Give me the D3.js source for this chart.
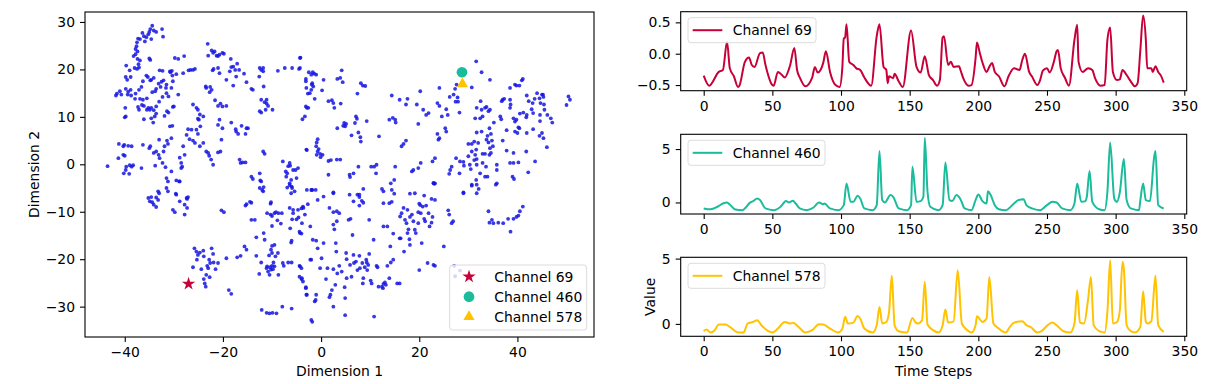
<!DOCTYPE html>
<html>
<head>
<meta charset="utf-8">
<script src="https://cdn.jsdelivr.net/npm/d3@7"></script>
<style>
  body { margin: 0; background: #fff; }
  svg { font-family: "DejaVu Sans", sans-serif; }
</style>
</head>
<body>
<div id="chart"></div>
<script>
// ---- t-SNE embedding of the channels (Dimension 1, Dimension 2) ----
const embedding = [
  [-32.4,28.5],[-34.4,29.2],[-34.1,28.2],[-33.6,27.9],[-34.8,28.5],[-35.0,27.9],[-35.2,27.4],[-34.6,26.4],
  [-35.6,26.8],[-36.1,27.0],[-35.9,25.9],[-36.4,27.7],[-36.9,26.4],[-37.3,26.5],[-37.5,25.7],[-37.6,24.9],
  [-37.8,24.3],[-37.4,23.8],[-37.8,23.2],[-38.2,22.8],[-37.4,22.2],[-36.9,21.9],[-37.2,21.1],[-37.1,20.4],
  [-37.5,20.1],[-38.0,20.3],[-39.0,19.8],[-39.7,20.8],[-38.8,18.4],[-39.8,18.4],[-39.5,17.8],[-35.0,22.3],
  [-34.8,22.0],[-32.2,26.9],[-32.3,19.7],[-32.9,19.8],[-33.1,17.0],[-32.5,17.4],[-32.1,17.7],[-31.5,16.8],
  [-31.6,16.1],[-32.7,16.3],[-33.6,15.9],[-33.8,15.4],[-34.4,15.2],[-34.1,18.2],[-34.6,17.8],[-35.3,18.4],
  [-35.6,18.7],[-34.8,17.7],[-36.3,17.5],[-36.6,16.3],[-37.1,15.7],[-37.8,14.9],[-38.8,15.7],[-39.3,15.3],
  [-39.8,15.9],[-41.0,15.4],[-41.6,14.9],[-41.8,14.5],[-40.7,14.7],[-39.4,14.7],[-38.7,14.5],[-37.9,13.8],
  [-36.9,13.8],[-36.3,13.6],[-35.5,13.9],[-36.5,12.5],[-37.3,12.1],[-36.1,12.3],[-35.2,11.9],[-34.9,11.5],
  [-34.6,11.9],[-34.1,11.4],[-33.6,12.2],[-33.0,13.2],[-32.3,14.2],[-31.5,15.0],[-31.1,14.3],[-30.5,16.1],
  [-30.2,17.5],[-30.3,18.7],[-30.7,19.4],[-30.4,19.7],[-30.8,19.6],[-29.1,14.7],[-30.0,12.2],[-31.4,11.2],
  [-31.9,10.2],[-33.6,10.7],[-33.9,10.1],[-34.2,8.8],[-34.6,9.7],[-36.1,9.5],[-39.9,11.9],[-39.8,10.1],
  [-40.0,9.9],[-37.1,11.5],[-35.5,11.5],[-30.8,8.0],[-31.1,10.9],
  [-29.8,22.4],[-29.1,22.2],[-27.9,22.8],[-29.5,19.0],[-28.1,19.2],[-30.2,12.1],[-30.3,8.1],[-26.6,19.9],
  [-26.1,19.9],[-25.7,20.1],[-27.0,19.8],[-23.1,25.4],[-23.0,22.9],[-22.3,24.0],[-22.0,23.5],[-21.7,23.8],
  [-21.3,22.9],[-21.0,22.8],[-20.7,23.1],[-20.1,23.5],[-19.8,23.3],[-18.4,22.2],[-17.1,21.2],[-17.5,19.9],
  [-18.6,19.6],[-18.3,20.5],[-17.9,20.6],[-16.7,19.9],[-15.7,19.1],[-15.2,17.3],[-14.2,15.9],[-13.9,15.7],
  [-19.3,17.8],[-20.7,19.2],[-21.0,20.3],[-21.9,20.1],[-22.1,19.8],[-23.5,16.4],[-23.4,16.1],[-22.6,16.3],
  [-22.3,15.7],[-22.7,15.2],[-21.6,13.5],[-21.0,12.3],[-20.5,12.8],[-20.1,12.2],[-19.3,12.3],[-17.9,16.6],
  [-17.3,18.5],[-12.5,20.3],[-12.2,19.9],[-11.8,20.3],[-11.8,19.6],[-12.6,18.5],[-11.7,16.4],[-12.2,13.6],
  [-11.5,13.1],[-11.1,12.8],[-10.8,12.3],[-11.1,13.6],[-11.3,11.5],[-9.9,11.5],[-12.5,11.2],[-12.2,10.9],
  [-8.8,19.7],[-7.4,20.3],[-5.9,20.3],[-4.5,20.1],[-4.2,22.5],[-26.1,12.6],[-25.4,11.9],[-25.1,11.5],
  [-24.7,10.5],[-24.0,10.1],[-25.1,9.6],[-24.9,9.4],[-24.6,8.0],[-25.4,7.3],[-25.1,6.4],[-26.4,7.3],
  [-27.1,7.4],[-27.4,6.2],[-26.8,5.3],[-26.1,5.0],[-25.7,4.5],[-24.7,3.8],[-24.0,4.5],[-23.4,2.7],
  [-23.0,2.4],[-22.8,1.8],[-22.4,1.0],[-22.0,-0.1],[-21.0,2.5],[-20.3,5.2],[-20.5,2.7],[-20.1,7.6],
  [-21.0,8.3],[-20.7,9.4],[-18.3,8.8],[-17.4,7.4],[-17.3,6.9],[-16.9,6.4],[-16.2,8.1],[-15.2,7.6],
  [-14.9,7.6],[-15.4,6.4],[-16.6,1.0],[-16.4,0.3],[-16.0,0.4],[-15.4,0.4],[-14.2,-2.6],[-13.9,-3.1],
  [-11.8,2.7],[-11.5,2.2],[-12.5,-1.9],[-12.4,-3.4],[-12.5,-5.0],[-11.8,-5.7],[-12.2,-3.6],[-7.8,0.6],
  [-7.2,-1.5],[-6.9,-1.9],[-7.1,-2.6],[-6.4,0.3],[-6.3,-0.3],[-6.7,-0.4],[-5.7,-1.2],[-5.2,-1.2],
  [-5.0,-2.9],[-6.1,-3.3],[-6.4,-4.0],[-5.9,-5.0],[-5.4,-5.7],[-4.7,-0.8],[-3.0,3.1],[-2.0,-5.4],
  [-3.8,9.5],[-3.3,10.1],[-2.9,11.9],[-3.1,12.2],[-3.1,17.5],[-3.1,18.0],[-3.0,16.1],[-2.7,14.9],
  [-2.3,15.0],[-2.0,15.7],[-1.8,17.1],[-1.6,16.4],[-1.3,13.8],[-2.0,18.9],[-2.5,19.4],[-1.0,18.9],
  [-33.0,5.2],[-31.4,5.0],[-31.2,4.3],[-31.9,3.8],[-32.1,2.7],[-33.1,2.0],[-32.9,1.3],[-34.1,2.4],
  [-33.6,2.7],[-34.8,3.8],[-35.0,3.4],[-30.5,5.5],[-28.1,3.8],[-27.8,2.0],[-28.8,1.4],[-28.5,0.3],
  [-28.3,-0.5],[-28.5,-0.8],[-30.5,-1.5],[-31.7,-0.6],[-32.3,0.3],[-33.8,-0.3],[-36.3,4.1],[-38.6,3.8],
  [-39.3,3.9],[-40.1,4.1],[-40.3,3.8],[-41.2,4.3],[-41.3,1.3],[-40.3,2.0],[-40.0,1.8],[-39.0,-0.2],
  [-38.6,-0.5],[-39.7,-0.5],[-39.8,-1.2],[-39.1,-2.0],[-40.2,-1.9],[-38.3,-0.2],[-36.6,-0.8],[-43.5,-0.4],
  [-31.5,-2.9],[-31.2,-3.6],[-29.6,-6.2],[-28.8,-3.6],[-29.5,-3.4],[-27.3,-7.3],[-27.1,-6.9],[-33.6,-7.0],
  [-35.2,-7.1],[-34.6,-6.9],[-34.9,-7.8],[-34.4,-8.0],[-34.1,-8.5],[-33.6,-9.0],[-33.2,-7.5],[-33.0,-6.1],
  [-33.2,-5.7],[-31.5,-5.0],[-31.2,-5.7],[-30.2,-9.6],[-29.8,-10.1],[-29.5,-6.4],[-28.8,-7.8],[-27.8,-8.5],
  [-27.3,-9.2],[-27.4,-7.1],[-27.8,-10.6],[-28.9,-3.6],
  [-26.1,-21.7],[-25.8,-17.7],[-25.4,-18.4],[-25.1,-19.1],[-24.7,-18.6],[-25.3,-20.1],[-24.0,-18.2],[-23.9,-19.4],
  [-24.4,-22.1],[-23.9,-24.2],[-23.7,-25.1],[-23.5,-25.8],[-23.4,-23.3],[-23.2,-21.4],[-22.8,-20.1],[-23.0,-21.9],
  [-22.6,-20.8],[-22.3,-17.7],[-22.0,-18.9],[-21.9,-20.7],[-21.5,-22.1],[-21.0,-20.8],[-22.7,-23.8],[-20.3,-9.7],
  [-19.8,-10.1],[-19.3,-19.8],[-18.8,-26.5],[-18.3,-27.3],[-17.1,-19.6],[-16.4,-19.3],[-15.6,-17.3],[-15.2,-18.0],
  [-15.2,-8.4],[-15.4,-8.7],[-14.5,-7.9],[-14.2,-8.1],[-14.2,-11.7],[-13.5,-11.7],[-13.2,-15.4],[-13.2,-19.3],
  [-12.6,-23.1],[-12.2,-20.7],[-12.0,-5.4],[-11.7,-4.8],[-11.7,-14.5],[-11.5,-15.9],[-11.1,-21.9],[-10.8,-22.6],
  [-10.5,-23.3],[-11.0,-21.5],[-10.4,-21.7],[-10.2,-22.2],[-10.0,-21.4],[-9.8,-22.1],[-9.5,-21.5],[-9.7,-20.7],
  [-9.3,-19.4],[-10.0,-18.7],[-10.6,-19.2],[-10.2,-18.0],[-10.0,-17.2],[-9.5,-17.0],[-8.8,-18.7],[-8.7,-23.3],
  [-12.1,-30.7],[-11.1,-31.3],[-10.5,-31.4],[-9.9,-31.3],[-9.1,-31.4],[-7.9,-30.0],[-6.0,-30.4],[-11.0,-10.3],
  [-10.3,-10.6],[-10.3,-8.3],[-10.2,-8.0],[-10.0,-10.9],[-9.5,-10.3],[-9.2,-10.1],[-8.7,-10.3],[-8.0,-10.3],
  [-8.9,-11.8],[-8.2,-12.5],[-10.0,-13.0],[-7.8,-20.8],[-7.6,-21.4],[-6.7,-20.7],[-6.0,-20.7],[-6.3,-13.5],
  [-6.0,-16.1],[-6.1,-16.5],[-6.4,-9.2],[-5.9,-11.6],[-5.7,-9.6],[-5.7,-10.3],[-4.7,-9.6],[-4.0,-9.3],
  [-3.7,-8.9],[-2.7,-8.4],[-5.0,-11.6],[-4.6,-11.2],[-4.4,-14.2],[-4.0,-14.6],[-4.4,-21.4],[-4.0,-21.9],
  [-4.4,-23.7],[-4.0,-24.2],[-3.7,-24.7],[-3.1,-25.9],[-3.0,-27.5],[-2.0,-20.1],[-2.2,-13.1],[-1.7,-15.9],
  [-1.3,-28.9],[-1.1,-28.6],[-2.0,-32.8],[-1.0,-27.5],[-1.1,-5.4],[-6.9,-4.9],[-6.4,-4.4],[-6.0,-4.7],
  [-6.1,-6.1],[-2.9,-5.4],
  [-4.3,22.4],[-4.3,20.3],[-1.7,19.4],[-1.4,19.1],[-1.9,16.8],[0.5,17.8],[0.2,15.6],[-2.6,11.9],
  [3.3,18.0],[3.9,18.2],[4.2,19.8],[4.4,17.3],[1.5,13.3],[2.2,13.5],[2.5,12.9],[2.7,11.9],
  [4.0,12.8],[-0.7,5.3],[-0.9,4.6],[-1.0,3.8],[-0.5,3.2],[-0.7,2.7],[-0.9,2.0],[-0.2,2.2],
  [0.3,2.0],[-0.1,1.5],[-2.9,3.0],[1.5,0.7],[2.0,0.9],[3.2,1.0],[3.9,1.0],[1.5,-2.2],
  [5.8,-2.2],[5.9,-2.7],[6.6,-1.9],[7.6,-0.5],[6.2,6.1],[6.9,8.7],[7.1,10.1],[7.3,9.6],
  [7.6,6.7],[8.0,5.7],[8.1,4.8],[9.3,9.1],[4.5,8.1],[4.7,8.7],[4.9,8.0],[5.1,8.5],
  [3.3,7.6],[7.4,14.9],[8.1,17.1],[8.5,16.6],[9.0,16.5],[11.8,5.9],[10.2,-0.5],[10.8,-0.5],
  [11.3,-0.1],[11.2,-1.9],[15.1,-0.5],[14.9,-3.3],[14.2,-4.0],[12.7,-5.7],[13.9,9.4],[14.6,9.8],
  [15.1,9.4],[15.2,8.8],[14.4,14.5],[16.0,13.6],[17.3,12.6],[17.6,13.8],[19.5,12.6],[19.8,8.5],
  [20.2,15.4],[20.8,11.5],[21.4,10.4],[21.9,10.8],[16.4,3.8],[16.8,4.3],[17.3,5.0],[18.5,-1.5],
  [18.8,-1.2],[19.8,-0.8],[20.3,0.3],[19.1,-6.1],[18.1,-6.2],[14.9,-6.2],[8.6,-5.2],[7.8,-6.4],
  [-1.8,-5.4],[2.5,-5.9],[5.8,-6.4],[22.7,0.6],[23.2,1.3],[22.9,-4.0],[23.2,-4.0],[23.7,12.9],
  [24.1,12.3],[24.1,16.1],[23.7,6.4],[23.9,5.2],[24.1,5.5],[25.3,7.6],[25.5,6.9],[25.8,10.4],
  [24.6,10.1],[25.5,11.6],[26.2,14.2],[27.0,14.7],[27.3,15.9],[27.6,16.8],[27.8,14.1],[27.4,13.2],
  [27.9,13.2],[28.2,10.9],[31.6,21.7],[32.7,19.4],[34.4,17.8],[30.7,16.2],[32.5,13.3],[31.7,11.9],
  [32.7,11.5],[33.4,11.9],[33.7,12.1],[34.1,11.2],[34.4,11.5],[32.9,10.1],[32.4,9.7],[31.4,9.7],
  [36.5,10.1],[36.7,9.5],[35.2,8.8],[34.3,7.6],[32.7,6.9],[33.9,6.0],[34.6,6.4],[34.8,5.0],
  [34.1,4.6],[35.0,3.8],[34.4,3.4],[33.4,2.2],[32.9,2.2],[34.3,2.0],[34.6,2.4],[33.7,5.2],
  [31.7,6.7],[30.0,4.3],[30.7,4.3],[31.2,4.8],[31.6,3.1],[32.0,4.5],[30.7,2.7],[31.4,2.0],
  [31.7,1.1],[30.0,1.7],[29.0,0.5],[28.3,0.6],[27.5,1.3],[26.6,-0.5],[26.3,-1.2],[26.1,-2.0],
  [28.2,-1.9],[29.1,-0.3],[30.3,-0.1],[30.5,-1.0],[31.2,0.9],[31.7,-0.1],[32.4,-1.9],[32.9,0.3],
  [33.4,-2.6],[33.9,-2.6],[33.6,-0.5],[35.8,-0.1],[35.8,-1.2],[30.7,-4.3],[31.6,-3.3],[32.1,-5.2],
  [31.7,-6.1],[35.8,-4.0],[29.0,-5.9],[36.8,13.3],[37.0,13.6],[37.3,13.8],[38.5,13.6],[38.5,11.9],
  [38.6,12.6],[38.5,16.1],[39.5,16.8],[39.8,16.6],[40.4,16.6],[40.9,17.7],[41.1,18.0],[41.9,14.5],
  [42.3,13.3],[43.1,12.9],[43.5,13.8],[44.0,15.0],[44.5,13.9],[45.0,14.7],[45.3,14.2],[45.2,14.7],
  [44.7,12.9],[45.4,12.6],[45.5,11.5],[44.6,10.4],[46.1,10.4],[46.8,9.7],[47.1,8.8],[41.2,10.9],
  [41.9,10.4],[42.9,11.6],[43.2,10.8],[41.8,9.9],[40.5,10.7],[39.2,9.7],[39.5,9.0],[39.8,9.4],
  [44.6,9.1],[40.2,7.8],[39.5,6.9],[40.0,6.6],[40.4,7.6],[41.9,6.6],[43.2,7.4],[44.5,6.0],
  [45.0,6.6],[45.3,5.5],[46.0,3.6],[37.8,7.2],[37.0,5.0],[37.8,2.9],[39.2,2.4],[38.5,0.3],
  [39.2,0.3],[40.2,0.4],[41.8,2.7],[43.6,0.6],[42.2,-1.7],[39.0,-2.6],[39.3,-3.1],[50.0,12.5],
  [50.4,14.3],[50.7,13.6],[31.7,-4.3],
  [-1.9,-5.4],[0.5,-6.8],[-0.7,-7.5],[2.5,-6.1],[7.4,-6.4],[7.8,-6.9],[6.6,-7.8],[8.3,-7.7],
  [8.6,-8.1],[7.8,-8.7],[12.4,-5.2],[12.7,-8.2],[13.9,-8.2],[14.4,-7.9],[21.0,-6.6],[20.0,-8.3],
  [21.4,-8.7],[22.5,-7.3],[23.2,-7.5],[22.9,-3.9],[23.1,-4.1],[29.0,-6.1],[30.7,-4.5],[35.6,-4.3],
  [34.1,-9.9],[34.8,-11.7],[34.3,-12.3],[35.1,-12.4],[36.1,-12.3],[37.1,-12.4],[38.1,-11.5],[38.6,-14.2],
  [39.2,-11.5],[39.8,-11.1],[40.2,-10.8],[40.5,-9.9],[41.1,-8.9],[-3.6,-9.2],[-3.3,-10.6],[-3.9,-12.4],
  [-4.3,-14.5],[-4.3,-21.5],[-3.9,-24.0],[-3.1,-26.1],[-2.9,-27.5],[-1.8,-33.2],[-1.0,-16.1],[-0.7,-17.7],
  [-2.2,-20.1],[0.1,-19.8],[-0.2,-21.9],[0.5,-16.6],[1.0,-24.2],[1.7,-28.0],[1.9,-27.5],[1.3,-21.9],
  [2.2,-26.5],[2.5,-30.0],[3.0,-16.6],[3.1,-18.4],[3.2,-9.9],[3.2,-12.0],[1.7,-9.2],[2.5,-10.1],
  [3.7,-10.3],[2.5,-12.7],[2.7,-13.7],[2.5,-22.1],[2.9,-25.4],[3.3,-23.0],[3.7,-21.4],[4.2,-22.6],
  [4.8,-25.9],[4.9,-31.8],[4.9,-28.2],[5.1,-18.7],[5.2,-20.0],[5.2,-24.0],[5.6,-11.7],[6.0,-11.5],
  [5.9,-21.2],[6.2,-23.7],[6.4,-14.9],[6.6,-19.1],[6.7,-20.8],[7.1,-20.5],[7.4,-22.3],[7.8,-19.3],
  [7.9,-21.9],[8.4,-20.8],[8.5,-25.1],[8.6,-24.0],[8.9,-21.7],[9.3,-20.7],[9.2,-20.1],[9.4,-22.3],
  [9.6,-21.2],[9.8,-11.7],[9.8,-18.9],[10.1,-24.5],[10.3,-25.1],[10.8,-32.1],[10.7,-15.9],[11.3,-21.4],
  [11.5,-21.7],[11.7,-25.8],[12.4,-25.8],[12.7,-25.2],[12.6,-26.1],[12.7,-13.1],[13.0,-24.9],[13.2,-25.4],
  [13.5,-13.1],[13.5,-21.4],[13.9,-24.0],[14.1,-17.3],[14.2,-20.7],[14.4,-5.4],[14.7,-20.1],[14.7,-14.6],
  [15.5,-25.1],[16.0,-25.1],[16.0,-15.6],[16.2,-15.6],[16.1,-11.0],[16.4,-10.3],[16.8,-9.2],[17.1,-11.7],
  [17.4,-12.4],[17.8,-13.7],[17.6,-14.5],[18.0,-15.8],[18.1,-17.0],[16.9,-18.4],[17.6,-9.6],[18.1,-11.1],
  [18.5,-10.6],[18.8,-12.0],[19.1,-13.8],[19.3,-14.5],[19.8,-12.4],[19.8,-10.1],[20.2,-8.6],[20.3,-10.3],
  [20.5,-16.6],[20.7,-8.9],[21.0,-11.5],[21.2,-12.0],[20.0,-22.3],[21.9,-10.3],[22.1,-13.1],[22.5,-12.3],
  [22.7,-11.1],[21.7,-20.8],[22.9,-21.2],[23.2,-21.4],[25.0,-17.3],[25.9,-9.7],[26.1,-10.6],[26.6,-12.4],
  [26.9,-12.0],[27.1,-21.4],[28.3,-22.4],[27.3,-23.6]
];

// ---- highlighted channels ----
const channels = ["Channel 69", "Channel 460", "Channel 578"];
const channelDim1 = [-27.0, 28.7, 28.8];
const channelDim2 = [-25.2, 19.4, 16.9];

// ---- time series (time step, value) ----
const steps69 = [0,4,11,14,17,19,22,25,26,30,33,35,37,41,43,45,50,51,54,57,59,62,63,66,68,70,74,79,81,83,87,89,92,96,99,101,102,103,104,106,109,111,114,117,122,126,128,131,133,134,135,138,139,142,145,151,155,158,161,164,167,170,172,174,175,178,180,182,186,187,189,193,195,198,199,201,203,206,208,210,212,215,219,222,226,230,232,234,237,239,243,245,247,250,252,255,257,258,260,263,266,270,272,273,276,280,283,285,289,292,294,296,298,301,303,305,308,311,314,316,318,320,322,323,326,327,329,331,333,335];
const values69 = [-0.35,-0.51,-0.29,-0.26,0.19,-0.23,-0.36,-0.53,-0.51,-0.13,-0.06,-0.18,-0.21,0.01,0.02,-0.18,-0.5,-0.51,-0.29,-0.34,-0.38,-0.25,-0.18,0.09,-0.26,-0.38,-0.52,-0.38,-0.21,-0.3,-0.15,0.04,-0.29,-0.5,-0.53,-0.21,0.24,0.26,0.47,-0.13,-0.18,-0.23,-0.26,-0.38,-0.51,0.28,0.47,-0.21,-0.26,-0.47,-0.36,-0.39,-0.32,-0.44,-0.53,0.37,-0.21,-0.3,-0.04,-0.34,-0.42,-0.51,-0.42,0.26,0.28,-0.18,-0.13,-0.21,-0.2,-0.26,-0.39,-0.51,-0.5,-0.07,0.18,0.02,-0.14,-0.29,-0.21,-0.15,-0.29,-0.36,-0.52,-0.36,-0.23,-0.26,-0.1,0.0,-0.29,-0.36,-0.5,-0.42,-0.27,-0.23,-0.3,-0.13,0.04,0.06,-0.23,-0.38,-0.51,0.22,0.46,-0.13,-0.29,-0.23,-0.26,-0.39,-0.51,-0.5,0.22,0.42,-0.29,-0.42,-0.41,-0.26,-0.34,-0.44,-0.52,-0.47,0.06,0.61,0.22,-0.23,-0.23,-0.29,-0.2,-0.29,-0.35,-0.46];

const steps460 = [0,5,10,14,17,19,23,28,34,36,39,41,45,51,56,60,62,65,67,70,75,80,84,87,88,92,98,102,104,107,109,112,114,117,123,126,128,130,132,136,138,142,148,151,152,155,158,160,161,163,165,171,174,176,179,181,184,187,190,195,198,200,203,206,207,209,212,215,220,226,229,233,235,239,245,250,254,257,261,267,270,272,275,278,279,281,283,288,292,294,296,299,301,303,306,308,311,317,318,320,322,325,328,329,331,335];
const values460 = [-0.56,-0.64,-0.4,-0.1,0,-0.19,-0.66,-0.72,0,0.13,0.37,0.22,-0.56,-0.72,-0.4,0.13,0,0.15,-0.1,-0.56,-0.72,-0.47,0,-0.16,-0.1,-0.56,-0.72,-0.25,1.78,0.06,0.06,0.62,0.37,-0.56,-0.72,-0.25,4.81,0.22,0,0.69,0.53,-0.56,-0.72,-0.25,3.34,0.06,0.13,0.53,6.06,1.0,-0.4,-0.72,-0.25,3.75,0.22,0.13,0.69,0.31,-0.56,-0.72,0.22,0.75,0.13,-0.1,1.06,0.69,-0.25,-0.63,-0.72,-0.1,0.22,0.31,-0.25,-0.56,-0.72,-0.25,0.06,0,-0.56,-0.72,-0.1,1.78,0.06,0.13,0.53,2.94,0.06,-0.63,-0.72,1.0,5.62,0.37,0.06,0.91,4.06,0.22,-0.56,-0.72,0.22,1.78,0.22,0.13,4.19,4.81,-0.25,-0.56];

const steps578 = [0,2,5,8,11,16,19,25,29,32,36,39,42,50,54,59,63,65,69,74,79,84,87,92,98,101,103,105,109,112,114,117,123,126,128,130,133,135,137,139,142,148,152,154,156,159,161,163,167,171,174,176,178,182,185,188,192,195,198,199,203,206,208,211,215,220,223,226,232,235,238,243,246,251,254,257,262,267,270,272,274,277,280,282,284,288,292,294,296,298,301,303,305,306,308,311,314,318,320,322,323,326,329,331,335];
const values578 = [-0.56,-0.43,-0.66,-0.48,-0.05,-0.05,-0.23,-0.66,-0.66,0.03,0.15,0.28,-0.1,-0.66,-0.36,0.15,0.03,0.08,-0.23,-0.66,-0.48,-0.03,-0.05,-0.36,-0.66,-0.36,0.54,0.03,0.1,0.61,0.41,-0.36,-0.66,-0.1,1.3,0.03,0.15,0.92,3.68,-0.1,-0.56,-0.66,0.46,0.15,0.03,0.28,3.22,-0.05,-0.48,-0.66,-0.1,1.1,0.1,0.2,4.1,0.03,-0.48,-0.66,-0.1,0.59,0.15,0.41,3.6,0.03,-0.36,-0.66,-0.23,0.1,0.2,-0.1,-0.23,-0.66,-0.56,-0.05,0.1,-0.1,-0.56,-0.66,0.03,2.58,0.1,0.03,1.94,3.6,-0.1,-0.56,-0.66,0.92,4.87,0.03,0.15,1.0,4.75,4.2,-0.1,-0.56,-0.66,-0.23,2.5,0.15,0.03,0.2,3.68,-0.1,-0.61];

// ---- tick labels ----
const dim1Ticks = [-40, -20, 0, 20, 40];
const dim2Ticks = [-30, -20, -10, 0, 10, 20, 30];
const stepTicks = [0, 50, 100, 150, 200, 250, 300, 350];
const ticks69 = [-0.5, 0.0, 0.5];
const ticks460 = [0, 5];
const ticks578 = [0, 5];

const colors = ["#C70039", "#1ABC9C", "#FFC300"];
const FONT = 13.9;

const svg = d3.select("#chart").append("svg")
  .attr("width", 1214)
  .attr("height", 384);

function styleAxis(g) {
  g.select(".domain").remove();
  g.selectAll(".tick line").attr("stroke", "#000").attr("stroke-width", 1.1);
  g.selectAll(".tick text").attr("fill", "#000").style("font-size", FONT + "px")
    .style("font-family", "DejaVu Sans");
}

function frame(left, top, w, h) {
  svg.append("rect")
    .attr("x", left).attr("y", top)
    .attr("width", w).attr("height", h)
    .attr("fill", "none")
    .attr("stroke", "#000")
    .attr("stroke-width", 1.1);
}

// ================= scatter (left) =================
var sc = {left: 85, top: 12, right: 594, bottom: 337};

var x = d3.scaleLinear().domain([-48.1, 55.6]).range([sc.left, sc.right]);
var y = d3.scaleLinear().domain([-36.4, 32.1]).range([sc.bottom, sc.top]);

svg.append("g")
  .attr("transform", "translate(0," + sc.bottom + ")")
  .call(d3.axisBottom(x).tickValues(dim1Ticks).tickSize(5).tickPadding(5).tickFormat(d3.format("d")))
  .call(styleAxis);

svg.append("g")
  .attr("transform", "translate(" + sc.left + ",0)")
  .call(d3.axisLeft(y).tickValues(dim2Ticks).tickSize(5).tickPadding(5).tickFormat(d3.format("d")))
  .call(styleAxis);

svg.append("g").selectAll("circle")
  .data(embedding)
  .enter()
  .append("circle")
  .attr("cx", d => x(d[0]))
  .attr("cy", d => y(d[1]))
  .attr("r", 1.9)
  .attr("fill", "#1515e0")
  .attr("fill-opacity", 0.85);

var symbols = [d3.symbolStar, d3.symbolCircle, d3.symbolTriangle];
var symSizes = [55, 90, 55];

channels.forEach((c, i) => {
  svg.append("path")
    .attr("d", d3.symbol().type(symbols[i]).size(symSizes[i]))
    .attr("transform", "translate(" + x(channelDim1[i]) + "," + y(channelDim2[i]) + ")")
    .attr("fill", colors[i]);
});

frame(sc.left, sc.top, sc.right - sc.left, sc.bottom - sc.top);

// scatter legend (lower right)
var lg = svg.append("g");
lg.append("rect")
  .attr("x", 449.7).attr("y", 265)
  .attr("width", 137).attr("height", 65)
  .attr("rx", 3)
  .attr("fill", "#fff").attr("fill-opacity", 0.8)
  .attr("stroke", "#dcdcdc");
channels.forEach((c, i) => {
  var cy = 276.7 + i * 20;
  lg.append("path")
    .attr("d", d3.symbol().type(symbols[i]).size(symSizes[i]))
    .attr("transform", "translate(469," + cy + ")")
    .attr("fill", colors[i]);
  lg.append("text")
    .attr("x", 494.3).attr("y", cy + 5)
    .style("font-size", FONT + "px")
    .text(c);
});

svg.append("text")
  .attr("x", (sc.left + sc.right) / 2).attr("y", 376)
  .attr("text-anchor", "middle")
  .style("font-size", FONT + "px")
  .text("Dimension 1");

svg.append("text")
  .attr("transform", "translate(39," + (sc.top + sc.bottom) / 2 + ")rotate(-90)")
  .attr("text-anchor", "middle")
  .style("font-size", FONT + "px")
  .text("Dimension 2");

// ================= time series (right) =================
var tsLeft = 680.7, tsRight = 1186.7;
var panels = [
  {top: 11.7, bottom: 90.7, domain: [-0.59, 0.67], ticks: ticks69, fmt: d3.format(".1f"), steps: steps69, vals: values69, legendW: 128},
  {top: 134.3, bottom: 214, domain: [-1.08, 6.38], ticks: ticks460, fmt: d3.format("d"), steps: steps460, vals: values460, legendW: 137},
  {top: 257.3, bottom: 336.3, domain: [-0.95, 5.1], ticks: ticks578, fmt: d3.format("d"), steps: steps578, vals: values578, legendW: 137}
];

var xt = d3.scaleLinear().domain([-16.75, 351.75]).range([tsLeft, tsRight]);

panels.forEach((p, i) => {
  var yt = d3.scaleLinear().domain(p.domain).range([p.bottom, p.top]);

  svg.append("g")
    .attr("transform", "translate(0," + p.bottom + ")")
    .call(d3.axisBottom(xt).tickValues(stepTicks).tickSize(5).tickPadding(5))
    .call(styleAxis);

  svg.append("g")
    .attr("transform", "translate(" + tsLeft + ",0)")
    .call(d3.axisLeft(yt).tickValues(p.ticks).tickSize(5).tickPadding(5).tickFormat(p.fmt))
    .call(styleAxis);

  var pts = p.steps.map((s, k) => [s, p.vals[k]]);
  var line = d3.line()
    .curve(d3.curveMonotoneX)
    .x(d => xt(d[0]))
    .y(d => yt(d[1]));

  svg.append("path")
    .datum(pts)
    .attr("d", line)
    .attr("fill", "none")
    .attr("stroke", colors[i])
    .attr("stroke-width", 2)
    .attr("stroke-linejoin", "round");

  frame(tsLeft, p.top, tsRight - tsLeft, p.bottom - p.top);

  // legend upper left
  var ly = p.top + 6;
  var leg = svg.append("g");
  leg.append("rect")
    .attr("x", 688).attr("y", ly)
    .attr("width", p.legendW).attr("height", 25)
    .attr("rx", 3)
    .attr("fill", "#fff").attr("fill-opacity", 0.8)
    .attr("stroke", "#dcdcdc");
  leg.append("line")
    .attr("x1", 692.7).attr("x2", 722.3)
    .attr("y1", ly + 12.5).attr("y2", ly + 12.5)
    .attr("stroke", colors[i]).attr("stroke-width", 2);
  leg.append("text")
    .attr("x", 732.7).attr("y", ly + 17.5)
    .style("font-size", FONT + "px")
    .text(channels[i]);
});

svg.append("text")
  .attr("x", (tsLeft + tsRight) / 2).attr("y", 375.5)
  .attr("text-anchor", "middle")
  .style("font-size", FONT + "px")
  .text("Time Steps");

svg.append("text")
  .attr("transform", "translate(655," + (257.3 + 336.3) / 2 + ")rotate(-90)")
  .attr("text-anchor", "middle")
  .style("font-size", FONT + "px")
  .text("Value");
</script>
</body>
</html>
